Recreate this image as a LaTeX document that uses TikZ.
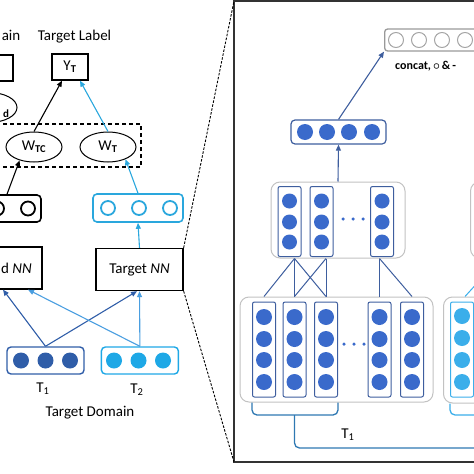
\documentclass[tikz,border=0pt]{standalone}
\usepackage{amsmath,bm}
\usepackage{fontspec}
\setmainfont{Carlito}
\usetikzlibrary{positioning, shapes.geometric, arrows.meta}
\definecolor{tblue}{HTML}{2F5DA8}
\definecolor{tcyan}{HTML}{1EA8E6}
\definecolor{lcyan}{HTML}{2AA7DD}
\definecolor{ablue}{HTML}{4A9EE0}
\definecolor{pblue}{HTML}{3A6ACB}
\definecolor{pline}{HTML}{3E5E9E}
\definecolor{gbox}{HTML}{C2C2C2}
\definecolor{brace}{HTML}{2E78B2}
\definecolor{lblue}{HTML}{3BAEEA}

\begin{document}
\begin{tikzpicture}[x=1pt, y=-1pt, node distance=16pt,
		lbl/.style={font=\fontsize{15}{18}\selectfont},
		box/.style={draw, line width=1.3pt, minimum width=87pt, minimum height=42pt, lbl},
		wnode/.style={draw, ellipse, line width=1pt, minimum width=56pt, minimum height=30pt, lbl},
		vec/.style={draw, rounded corners=4pt, line width=1.6pt, minimum height=27pt},
		ring/.style={draw, circle, line width=1.8pt, minimum size=14pt, inner sep=0pt},
		dot/.style={circle, fill, inner sep=0pt, minimum size=16pt},
		col/.style={draw=pline, rounded corners=2pt, line width=1pt, minimum width=23pt},
		grp/.style={draw=gbox, rounded corners=9pt, line width=1pt},
		arr/.style={-{Triangle[length=6pt, width=5pt]}, line width=1.1pt},
		zoomln/.style={line width=0.9pt, dash pattern=on 2.5pt off 1.5pt}]
	\useasboundingbox (0,0) rectangle (474,474);
	\clip (0,0) rectangle (474,474);

	\node[lbl, anchor=base east, inner sep=0pt] (srcd) at (20.5,40) {ain};
	\node[lbl, anchor=base] (tlab) at (74.5,40) {Target Label};
	\node[draw, line width=1.3pt, minimum width=36pt, minimum height=26pt] (ys) at (-5,68) {};
	\node[draw, line width=1.3pt, minimum width=36pt, minimum height=26pt, lbl] (yt) at (70,67) {Y\textsubscript{\textbf{T}}};
	\node[wnode] (ws) at (-11,107.5) {};
	\node[font=\fontsize{11}{12}\selectfont\bfseries, inner sep=0pt] (wsd) at (6,114) {d};
	\draw[line width=1.2pt, dash pattern=on 4pt off 3pt] (-10,124) rectangle (141,167);
	\node[wnode] (wtc) at (34,147) {W\textsubscript{\textbf{TC}}};
	\node[wnode] (wt) at (108,147) {W\textsubscript{\textbf{T}}};
	\node[vec, minimum width=91pt] (hs) at (-4.5,208.5) {};
	\foreach \x [count=\i] in {-34,-3,28} \node[ring] (hs\i) at (\x,208.5) {};
	\node[vec, draw=lcyan, minimum width=90pt, minimum height=28pt] (ht) at (138,208) {};
	\foreach \x [count=\i] in {108,139,170} \node[ring, draw=lcyan] (ht\i) at (\x,208) {};
	\node[box] (snn) at (-1.5,268) {};
	\node[lbl, anchor=east, inner sep=0pt] (snnt) at (32,268) {d \textit{NN}};
	\node[box] (tnn) at (139.5,269.5) {Target \textit{NN}};
	\node[vec, draw=tblue, line width=1.4pt, minimum width=77pt] (t1) at (45.5,360.5) {};
	\node[vec, draw=tcyan, line width=1.4pt, minimum width=77pt, right=of t1] (t2) {};
	\foreach \x [count=\i] in {21,45.5,70} \node[dot, fill=tblue] (t1\i) at (\x,360.5) {};
	\foreach \x [count=\i] in {114,138.5,163} \node[dot, fill=tcyan] (t2\i) at (\x,360.5) {};
	\node[lbl] (t1lab) at (43,389) {T\textsubscript{1}};
	\node[lbl] (t2lab) at (137,390) {T\textsubscript{2}};
	\node[lbl] (tdom) at (90,413) {Target Domain};

	\draw[arr] (wtc.north) -- ([xshift=-8pt]yt.south);
	\draw[arr, lcyan] (wt.north) -- ([xshift=10pt]yt.south);
	\draw[arr] ([xshift=11.5pt]hs.north) -- (wtc.223);
	\draw[arr, lcyan] (ht.north) -- (wt.325);
	\draw[arr, lcyan] (tnn.north) -- (ht.south);
	\draw[arr, tblue] (t1.north) -- ([xshift=4.5pt]snn.south);
	\draw[arr, tblue] (t1.north) -- ([xshift=-2.5pt]tnn.south);
	\draw[arr, ablue] (t2.north) -- ([xshift=29.5pt]snn.south);
	\draw[arr, ablue] (t2.north) -- (tnn.south);

	\coordinate (pnw) at (234,1);
	\coordinate (psw) at (234,462);
	\draw[line width=2.2pt, black!80] (pnw) rectangle (490,462);
	\draw[zoomln] (tnn.north east) -- (pnw);
	\draw[zoomln] (tnn.south east) -- (psw);

	\node[draw=gray!80, line width=1.3pt, rounded corners=3pt, minimum width=120pt, minimum height=22pt, anchor=west] (out) at (384,40) {};
	\foreach \x [count=\i] in {396,419,442,465,488} \node[ring, draw=gray!70, line width=1pt, minimum size=15pt] (out\i) at (\x,40) {};
	\node[anchor=west, font=\fontsize{12}{14}\selectfont\bfseries, inner sep=0pt] (ops) at (395,66) {concat,\,$\boldsymbol{\circ}$\,\&\,-};
	\node[vec, draw=pline, line width=1.2pt, minimum width=95pt, minimum height=24pt] (mid) at (338.5,132) {};
	\foreach \x [count=\i] in {305,327,349,372} \node[dot, fill=pblue] (mid\i) at (\x,132) {};

	\node[grp, minimum width=134pt, minimum height=76pt] (up) at (338,220) {};
	\foreach \x [count=\i] in {289.5,321.5,382} {
		\node[col, minimum height=70pt] (u\i) at (\x,221.5) {};
		\foreach \y in {201,222,242} \node[dot, fill=pblue, minimum size=15pt] (u\i-\y) at (\x,\y) {};
	}
	\foreach \x in {343,353,363} \node[circle, fill=pblue, inner sep=0pt, minimum size=3.5pt] (ud\x) at (\x,219) {};
	\node[grp, minimum width=60pt, minimum height=76pt, anchor=west] (up2) at (470,220) {};

	\node[grp, minimum width=193pt, minimum height=105pt] (low) at (336.5,349.5) {};
	\foreach \x [count=\i] in {264,294.5,326,379.5,412} {
		\node[col, minimum height=95pt] (l\i) at (\x,349.5) {};
		\foreach \y in {317,339,360,382} \node[dot, fill=pblue] (l\i-\y) at (\x,\y) {};
	}
	\foreach \x in {344,354,364} \node[circle, fill=pblue, inner sep=0pt, minimum size=3.5pt] (ld\x) at (\x,344) {};
	\node[grp, minimum width=60pt, minimum height=106pt, anchor=west] (low2) at (443,350) {};
	\node[col, draw=lblue, minimum height=95pt] (r1) at (462,349.5) {};
	\foreach \y in {316,338,360,382} \node[dot, fill=lblue] (r1-\y) at (462,\y) {};

	\draw[arr, pline] (up.north) -- (mid.south);
	\draw[arr, pline] (mid.north) -- (out.south west);
	\foreach \a/\b in {2/1,2/2,2/3,3/2,3/3,4/4,4/5}
		\draw[pline, line width=1pt] (l\a |- up.south) -- (l\b |- low.north);
	\coordinate (rend) at (500,258);
	\draw[lblue, line width=1pt] ([xshift=22pt]low2.north west) -- (rend);

	\coordinate (bt) at (294.5,415);
	\coordinate (bend) at (490,448);
	\coordinate (bend2) at (490,415);
	\draw[brace, line width=1.3pt, rounded corners=5pt] (l1.west |- low.south) -- (l1.west |- bt) -- (l3.east |- bt) -- (l3.east |- low.south);
	\draw[brace, line width=1.3pt, rounded corners=5pt] (l2 |- bt) -- (l2 |- bend) -- (bend);
	\draw[lblue, line width=1.3pt, rounded corners=5pt] (r1.west |- low2.south) -- (r1.west |- bt) -- (bend2);
	\node[lbl] (t1r) at (348,435) {T\textsubscript{1}};
\end{tikzpicture}
\end{document}
